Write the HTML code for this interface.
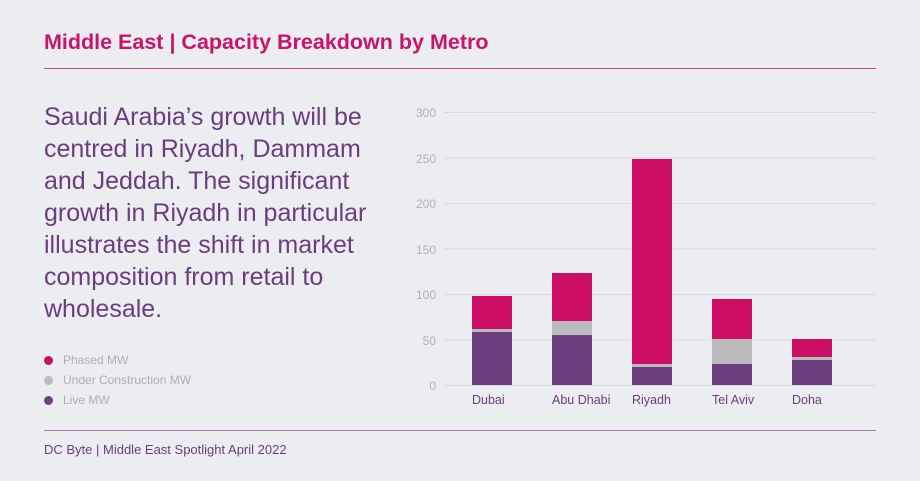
<!DOCTYPE html>
<html><head><meta charset="utf-8"><style>
body{margin:0;width:920px;height:481px;background:#ebedf0;position:relative;overflow:hidden;font-family:"Liberation Sans",sans-serif}
.t{position:absolute;white-space:nowrap}
</style></head><body>
<div class="t" style="left:44px;top:30px;font-size:21.5px;font-weight:bold;color:#c8146a">Middle East | Capacity Breakdown by Metro</div>
<div style="position:absolute;left:44px;top:68px;width:832px;height:1px;background:#c54a86"></div>
<div class="t" style="left:44px;top:101px;font-size:25px;line-height:32px;color:#6b3d80">Saudi Arabia’s growth will be<br>centred in Riyadh, Dammam<br>and Jeddah. The significant<br>growth in Riyadh in particular<br>illustrates the shift in market<br>composition from retail to<br>wholesale.</div>
<div style="position:absolute;left:44px;top:356px;width:9px;height:9px;border-radius:50%;background:#cc0e64"></div>
<div style="position:absolute;left:44px;top:376px;width:9px;height:9px;border-radius:50%;background:#bbbbbd"></div>
<div style="position:absolute;left:44px;top:396px;width:9px;height:9px;border-radius:50%;background:#6c3f7e"></div>
<div class="t" style="left:63px;top:353px;font-size:12px;color:#aeaeb2">Phased MW</div>
<div class="t" style="left:63px;top:373px;font-size:12px;color:#aeaeb2">Under Construction MW</div>
<div class="t" style="left:63px;top:393px;font-size:12px;color:#aeaeb2">Live MW</div>
<div style="position:absolute;left:44px;top:430px;width:832px;height:1px;background:#a57ab3"></div>
<div class="t" style="left:44px;top:442px;font-size:13px;color:#6b3d80">DC Byte | Middle East Spotlight April 2022</div>
<svg style="position:absolute;left:0;top:0" width="920" height="481">
<g stroke="#d8d9dc" stroke-width="1">
<line x1="444" x2="876" y1="112.5" y2="112.5"/><line x1="444" x2="876" y1="158" y2="158"/><line x1="444" x2="876" y1="203.5" y2="203.5"/><line x1="444" x2="876" y1="249" y2="249"/><line x1="444" x2="876" y1="294.5" y2="294.5"/><line x1="444" x2="876" y1="340" y2="340"/><line x1="444" x2="876" y1="385.5" y2="385.5"/>
</g>
<g font-size="12" fill="#b0b0b4" text-anchor="end" font-family="Liberation Sans,sans-serif">
<text x="436" y="117">300</text><text x="436" y="163">250</text><text x="436" y="208">200</text><text x="436" y="254">150</text><text x="436" y="299">100</text><text x="436" y="345">50</text><text x="436" y="390">0</text>
</g>
<g>
<rect x="472" y="296" width="40" height="33" fill="#cc0e64"/><rect x="472" y="329" width="40" height="3" fill="#bbbbbd"/><rect x="472" y="332" width="40" height="53" fill="#6c3f7e"/>
<rect x="552" y="273" width="40" height="48" fill="#cc0e64"/><rect x="552" y="321" width="40" height="14" fill="#bbbbbd"/><rect x="552" y="335" width="40" height="50" fill="#6c3f7e"/>
<rect x="632" y="159" width="40" height="205" fill="#cc0e64"/><rect x="632" y="364" width="40" height="3" fill="#bbbbbd"/><rect x="632" y="367" width="40" height="18" fill="#6c3f7e"/>
<rect x="712" y="299" width="40" height="40" fill="#cc0e64"/><rect x="712" y="339" width="40" height="25" fill="#bbbbbd"/><rect x="712" y="364" width="40" height="21" fill="#6c3f7e"/>
<rect x="792" y="339" width="40" height="18" fill="#cc0e64"/><rect x="792" y="357" width="40" height="3" fill="#bbbbbd"/><rect x="792" y="360" width="40" height="25" fill="#6c3f7e"/>
</g>
<g font-size="12.5" fill="#6b3d80" font-family="Liberation Sans,sans-serif">
<text x="472" y="404">Dubai</text><text x="552" y="404">Abu Dhabi</text><text x="632" y="404">Riyadh</text><text x="712" y="404">Tel Aviv</text><text x="792" y="404">Doha</text>
</g>
</svg>
</body></html>
